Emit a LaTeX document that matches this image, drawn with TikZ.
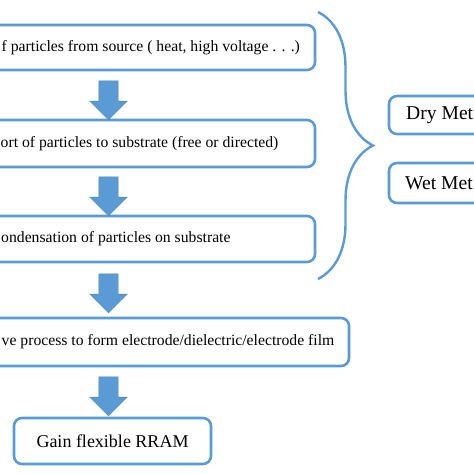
\documentclass[tikz,border=0pt]{standalone}
\usepackage{fontspec}
\setmainfont{Liberation Serif}
\usepackage{tikz}
\usetikzlibrary{shapes.arrows,decorations.pathreplacing}
\definecolor{flowblue}{HTML}{5B9BD5}

\begin{document}
\begin{tikzpicture}[x=1pt,y=1pt,
    stepbox/.style={draw=flowblue, line width=2.6pt, rounded corners=8pt, inner sep=0pt},
    steptext/.style={font=\rmfamily\fontsize{15.7}{18}\selectfont, inner sep=0pt, anchor=west},
    bigtext/.style={font=\rmfamily\fontsize{18}{21}\selectfont, inner sep=0pt},
    methtext/.style={font=\rmfamily\fontsize{19.6}{22}\selectfont, inner sep=0pt, anchor=west},
    downarrow/.style={single arrow, fill=flowblue, draw=flowblue!85!black, line width=0.4pt,
        shape border rotate=270, minimum height=39pt, minimum width=37pt,
        single arrow head extend=9pt, single arrow head indent=0pt, inner sep=9.5pt}]
    \useasboundingbox (0,0) rectangle (474,474);
    \clip (0,0) rectangle (474,474);

    \node[stepbox, minimum width=335pt, minimum height=45pt] (evap) at (147.5,426.5) {};
    \node[stepbox, minimum width=335pt, minimum height=47pt] (trans) at (147.5,330.5) {};
    \node[stepbox, minimum width=335pt, minimum height=46pt] (cond) at (147.5,235) {};
    \node[stepbox, minimum width=369pt, minimum height=48pt] (rep) at (164.5,132) {};
    \node[stepbox, minimum width=197pt, minimum height=46pt] (gain) at (112.5,33) {};
    \node[stepbox, minimum width=120pt, minimum height=38pt] (dry) at (449,359) {};
    \node[stepbox, minimum width=120pt, minimum height=40pt] (wet) at (449,291) {};

    \node[steptext] (evaptxt) at (1.5,426.5) {f particles from source ( heat, high voltage . . .)};
    \node[steptext] (transtxt) at (0.5,330.5) {ort of particles to substrate (free or directed)};
    \node[steptext] (condtxt) at (1,235) {ondensation of particles on substrate};
    \node[steptext] (reptxt) at (1.5,132) {ve process to form electrode/dielectric/electrode film};
    \node[bigtext] (gaintxt) at (gain.center) {Gain flexible RRAM};
    \node[methtext] (drytxt) at (406,359) {Dry Met};
    \node[methtext] (wettxt) at (405,291) {Wet Met};

    \node[downarrow] (a1) at (108.5,378.5) {};
    \node[downarrow] (a2) at (108.5,282.5) {};
    \node[downarrow] (a3) at (108.5,185.5) {};
    \node[downarrow] (a4) at (108.5,82.5) {};

    \coordinate (bracetop) at (318,462);
    \coordinate (bracebot) at (318,195);
    \draw[flowblue, line width=2.4pt, decorate, decoration={brace, amplitude=55pt, aspect=0.5}]
        (bracetop) -- (bracebot);
\end{tikzpicture}
\end{document}
